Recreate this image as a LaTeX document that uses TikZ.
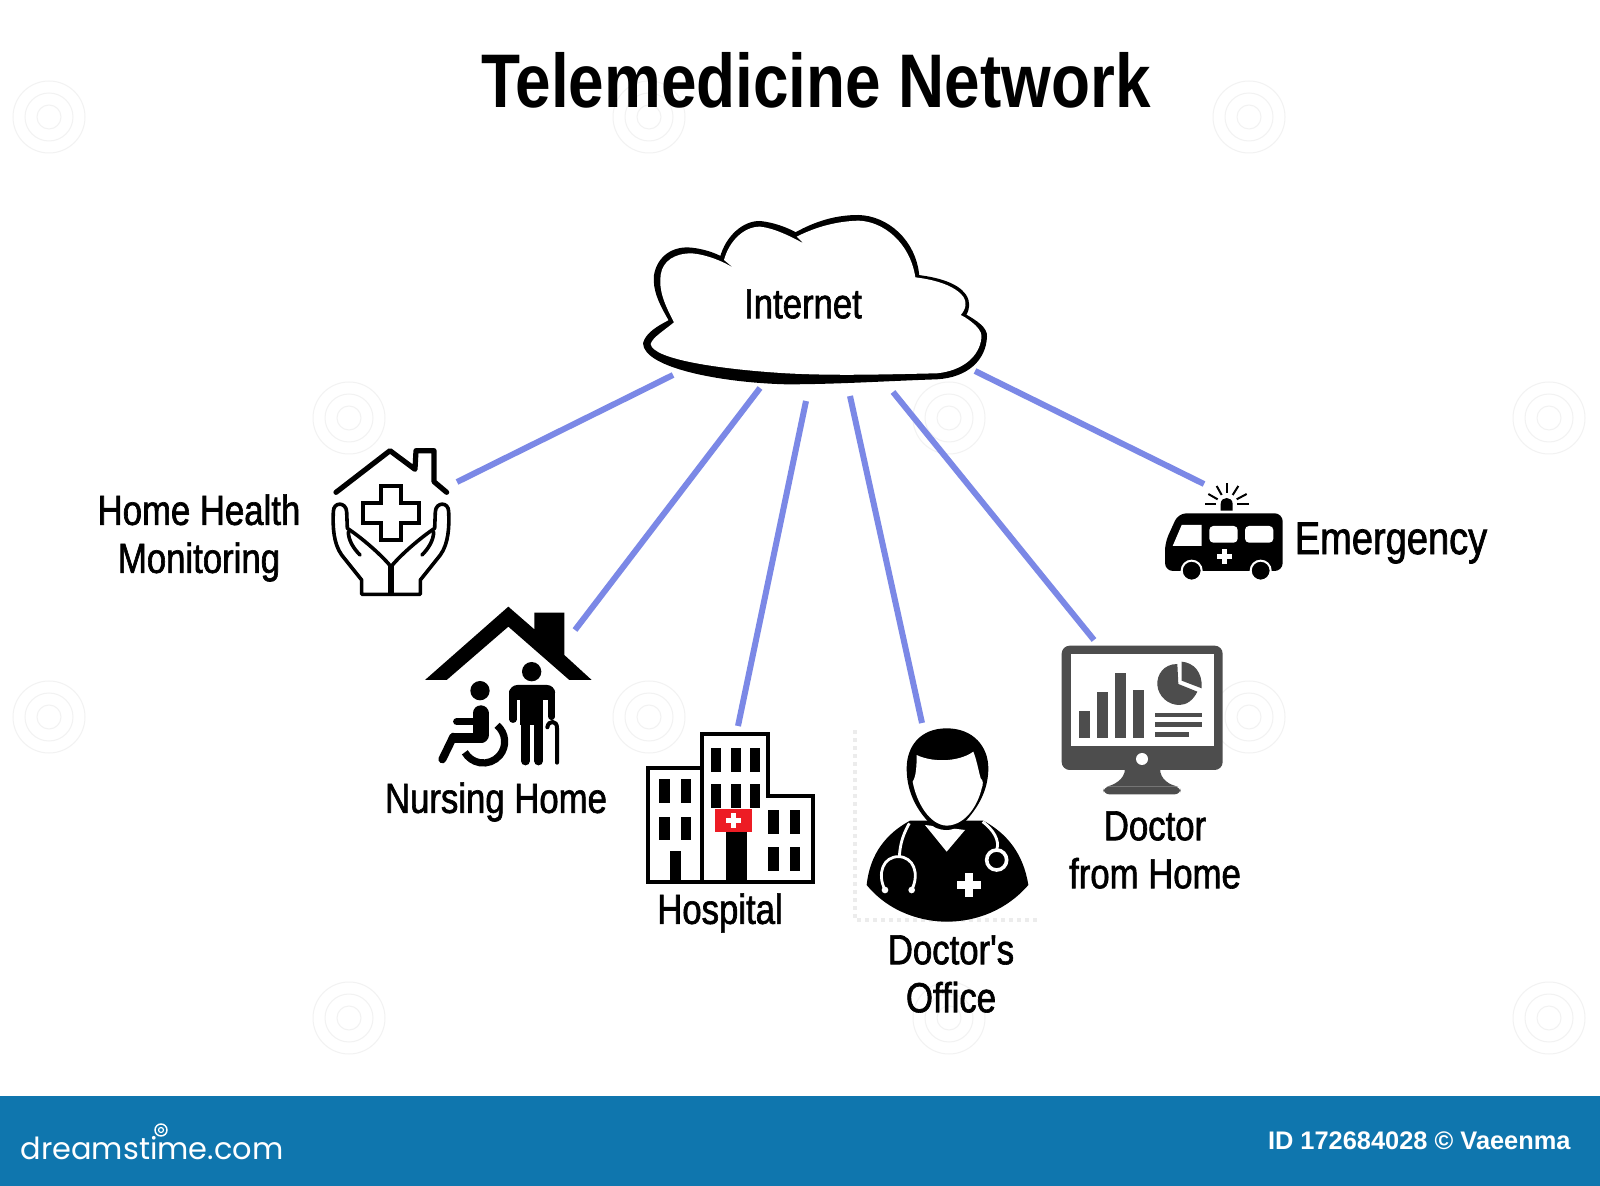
\documentclass[tikz,border=0pt]{standalone}
\usepackage{fontspec}
\setmainfont{Liberation Sans}
\newfontfamily\titlefont[FakeStretch=0.84]{Liberation Sans}
\newfontfamily\labelfont[FakeStretch=0.827,FakeBold=1.5]{Liberation Sans}
\newfontfamily\brandfont{Poppins}
\definecolor{netblue}{HTML}{7B88E6}
\definecolor{bandblue}{HTML}{0F76AE}
\definecolor{screengrey}{HTML}{4D4D4D}
\definecolor{signred}{HTML}{ED1C24}
\tikzset{
  tag/.style={font=\labelfont\fontsize{21}{24}\selectfont,align=center,inner sep=0pt},
  netline/.style={netblue,line width=3pt},
  mark1/.style={gray!10,line width=0.5pt},
  zoomhome/.style={shift={(310,430)},scale=1/3},
  zoomhosp/.style={shift={(630,710)},scale=1/3},
  zoomcar/.style={shift={(1050,470)},scale=1/3},
  zoomcloud/.style={shift={(620,200)},scale=1/3}
}
\begin{document}
\begin{tikzpicture}[x=0.5pt,y=-0.5pt]
\useasboundingbox (0,0) rectangle (1600,1186);
\fill[white] (0,0) rectangle (1600,1186);
% faint marks behind the picture
\foreach \mx/\my in {49/117,649/117,1249/117,349/418,949/418,1549/418,49/717,649/717,1249/717,349/1018,949/1018,1549/1018}
  \foreach \mr in {12,24,36}
    \draw[mark1] (\mx,\my) circle[radius=\mr];
\draw[gray!15,dotted,line width=2pt] (855,730) -- (855,920) -- (1040,920);
\fill[bandblue] (0,1096) rectangle (1600,1186);

\node (title) at (816,80) {\titlefont\bfseries\fontsize{38}{40}\selectfont Telemedicine Network};

% cloud
\begin{scope}[zoomcloud]
\filldraw[black,line width=1pt,line join=round] (150,362) .. controls (120,310) and (100,270) .. (105,225)
  .. controls (115,170) and (160,140) .. (215,146) .. controls (250,150) and (280,160) .. (303,172)
  .. controls (320,110) and (370,65) .. (420,66) .. controls (460,70) and (500,85) .. (527,100)
  .. controls (590,65) and (650,48) .. (715,48) .. controls (800,50) and (885,120) .. (895,228)
  .. controls (950,235) and (1010,250) .. (1035,285) .. controls (1048,305) and (1048,325) .. (1035,345)
  .. controls (1070,365) and (1100,385) .. (1098,410) .. controls (1095,480) and (1040,530) .. (950,535)
  .. controls (800,540) and (650,550) .. (500,550) .. controls (300,545) and (75,500) .. (72,430)
  .. controls (80,400) and (115,380) .. (150,362) -- cycle;
\fill[white] (162,367) .. controls (132,310) and (116,270) .. (122,225)
  .. controls (128,182) and (165,160) .. (215,160) .. controls (260,164) and (310,184) .. (342,205)
  -- (312,180) .. controls (327,125) and (370,80) .. (420,80) .. controls (460,84) and (510,108) .. (550,130)
  -- (530,110) .. controls (590,80) and (650,64) .. (715,62) .. controls (790,64) and (870,128) .. (886,232)
  .. controls (950,240) and (1005,258) .. (1030,290) .. controls (1040,305) and (1040,325) .. (1022,345)
  -- (1035,352) .. controls (1065,372) and (1088,392) .. (1084,415) .. controls (1078,468) and (1030,512) .. (950,520)
  .. controls (800,523) and (650,528) .. (500,520) .. controls (300,508) and (98,478) .. (92,432)
  .. controls (98,412) and (132,392) .. (162,367) -- cycle;
\end{scope}
\node[tag] (internet) at (803,304) {Internet};

% connectors
\coordinate (netA) at (673,375);
\coordinate (netB) at (760,388);
\coordinate (netC) at (806,401);
\coordinate (netD) at (850,396);
\coordinate (netE) at (893,392);
\coordinate (netF) at (975,371);
\coordinate (homeEnd) at (457,482);
\coordinate (nurseEnd) at (575,630);
\coordinate (hospEnd) at (738,726);
\coordinate (officeEnd) at (922,723);
\coordinate (screenEnd) at (1094,640);
\coordinate (carEnd) at (1204,484);
\draw[netline] (netA) -- (homeEnd);
\draw[netline] (netB) -- (nurseEnd);
\draw[netline] (netC) -- (hospEnd);
\draw[netline] (netD) -- (officeEnd);
\draw[netline] (netE) -- (screenEnd);
\draw[netline] (netF) -- (carEnd);

% home health
\begin{scope}[zoomhome]
\draw[line width=2.6pt,line cap=round,line join=round] (78,187) -- (240,62) -- (315,118) -- (318,62) -- (372,62) -- (372,155) -- (410,187);
\draw[line width=2pt] (213,168) -- (273,168) -- (273,220) -- (328,220) -- (328,280) -- (273,280) -- (273,330) -- (213,330) -- (213,280) -- (160,280) -- (160,220) -- (213,220) -- cycle;
\foreach \side/\cx in {1/0,-1/486} {
  \begin{scope}[shift={(\cx,0)},xscale=\side]
  \draw[line width=1.8pt,line join=round,line cap=round] (243,493) -- (155,493) -- (155,450) -- (95,375)
    .. controls (70,340) and (68,290) .. (70,245) .. controls (70,215) and (108,215) .. (110,245) -- (112,295)
    .. controls (150,320) and (210,370) .. (243,410);
  \draw[line width=1.8pt,line cap=round] (115,305) .. controls (115,330) and (130,355) .. (150,375);
  \end{scope}
}
\draw[line width=2.6pt] (243,405) -- (243,495);
\end{scope}
\node[tag] (homelabel) at (199,538) {Home Health\\Monitoring};

% nursing home
\begin{scope}[zoomhome]
\fill (345,750) -- (595,530) -- (673,598) -- (673,548) -- (763,548) -- (763,675) -- (845,750) -- (778,750) -- (595,590) -- (410,750) -- cycle;
\fill (665,725) circle[radius=29];
\fill[rounded corners=4pt] (598,765) rectangle (735,810);
\fill (630,780) rectangle (700,885);
\draw[line width=3.6pt,line cap=round] (609,785) -- (609,868);
\draw[line width=3.4pt,line cap=round] (725,785) -- (725,860);
\draw[line width=4.4pt,line cap=round] (646,880) -- (646,993);
\draw[line width=4.4pt,line cap=round] (686,880) -- (686,993);
\draw[line width=2pt,line cap=round] (712,892) .. controls (715,870) and (742,870) .. (741,895) -- (741,998);
\fill (510,782) circle[radius=29];
\draw[line width=8pt,line cap=round] (512,850) -- (512,915);
\draw[line width=3.6pt,line cap=round] (440,875) -- (510,875);
\draw[line width=5pt,line cap=round] (515,925) -- (435,925);
\draw[line width=4pt,line cap=round] (430,920) -- (397,988);
\draw[line width=3.6pt] (520,935) ++(-50:64) arc[start angle=-50,end angle=150,radius=64];
\end{scope}
\node[tag] (nurselabel) at (496,802) {Nursing Home};

% hospital
\begin{scope}[zoomhosp]
\draw[line width=2pt,line join=miter] (215,515) -- (215,72) -- (415,72) -- (415,258) -- (550,258) -- (550,515) -- (55,515) -- (55,175) -- (215,175);
\foreach \wx in {88,153}
  \foreach \wy in {208,320}
    \fill (\wx,\wy) rectangle ++(31,71);
\foreach \wx in {243,303,360}
  \foreach \wy in {115,222}
    \fill (\wx,\wy) rectangle ++(31,72);
\foreach \wx in {415,480}
  \foreach \wy in {300,412}
    \fill (\wx,\wy) rectangle ++(31,71);
\fill (120,422) rectangle (153,512);
\fill (288,360) rectangle (352,512);
\fill[signred] (255,298) rectangle (367,365);
\fill[white] (303,310) rectangle (319,354);
\fill[white] (288,324) rectangle (334,340);
\end{scope}
\node[tag] (hosplabel) at (720,913) {Hospital};

% doctor
\begin{scope}[zoomhosp]
\fill (710,525) .. controls (720,430) and (770,370) .. (840,332) -- (1060,332)
  .. controls (1130,370) and (1180,430) .. (1195,525) .. controls (1130,600) and (1040,635) .. (950,635)
  .. controls (880,635) and (780,610) .. (710,525) -- cycle;
\fill[white] (885,345) -- (950,425) -- (1005,360) -- cycle;
\fill (950,55) .. controls (1030,55) and (1075,110) .. (1075,175) .. controls (1075,240) and (1045,290) .. (1010,330)
  .. controls (985,355) and (965,360) .. (950,360) .. controls (930,360) and (910,355) .. (890,330)
  .. controls (855,290) and (830,240) .. (830,175) .. controls (830,110) and (870,55) .. (950,55) -- cycle;
\fill[white] (860,135) .. controls (900,155) and (980,160) .. (1030,125) .. controls (1040,150) and (1045,180) .. (1052,205)
  .. controls (1060,210) and (1060,225) .. (1055,235) .. controls (1045,280) and (1010,345) .. (950,347)
  .. controls (900,345) and (860,280) .. (848,215) .. controls (858,200) and (860,170) .. (860,135) -- cycle;
\draw[white,line width=1.4pt] (838,340) .. controls (815,380) and (810,410) .. (808,440);
\draw[white,line width=1.4pt] (765,540) .. controls (740,490) and (760,440) .. (805,440) .. controls (850,440) and (870,490) .. (845,540);
\fill[white] (765,540) circle[radius=10];
\fill[white] (845,540) circle[radius=10];
\draw[white,line width=1.4pt] (1058,335) .. controls (1090,360) and (1110,390) .. (1100,420);
\draw[white,line width=1.8pt] (1100,450) circle[radius=30];
\fill[white] (1004,490) rectangle (1030,560);
\fill[white] (982,512) rectangle (1052,538);
\end{scope}
\node[tag] (officelabel) at (951,974) {Doctor's\\Office};

% doctor at home screen
\begin{scope}[zoomcar]
\fill[screengrey,rounded corners=4pt] (35,527) rectangle (518,900);
\fill[screengrey] (225,895) .. controls (225,930) and (190,945) .. (170,950) -- (385,950) .. controls (360,945) and (330,930) .. (330,895) -- cycle;
\fill[screengrey,rounded corners=3pt] (160,950) rectangle (392,973);
\fill[white] (62,553) rectangle (492,827);
\fill[white] (276,867) circle[radius=18];
\fill[screengrey] (86,722) rectangle (119,803);
\fill[screengrey] (140,667) rectangle (173,803);
\fill[screengrey] (195,610) rectangle (229,803);
\fill[screengrey] (250,660) rectangle (283,803);
\fill[screengrey] (385,642) -- (382,582) .. controls (340,582) and (320,615) .. (322,645) .. controls (325,680) and (355,705) .. (388,705) .. controls (410,705) and (430,690) .. (442,665) -- cycle;
\fill[screengrey] (395,632) -- (395,575) .. controls (430,578) and (458,605) .. (455,655) -- cycle;
\fill[screengrey] (316,728) rectangle (457,742);
\fill[screengrey] (316,757) rectangle (457,771);
\fill[screengrey] (316,787) rectangle (416,801);
\end{scope}
\node[tag] (screenlabel) at (1155,850) {Doctor\\from Home};

% emergency
\begin{scope}[zoomcar]
\fill[rounded corners=4pt] (385,130) -- (698,130) -- (698,303) -- (345,303) -- (345,218) -- cycle;
\fill[white] (368,228) -- (395,165) -- (455,165) -- (455,228) -- cycle;
\fill[white,rounded corners=2pt] (478,168) rectangle (563,218);
\fill[white,rounded corners=2pt] (585,168) rectangle (670,218);
\fill[white] (516,237) rectangle (530,283);
\fill[white] (500,253) rectangle (546,267);
\draw[fill=black,draw=white,line width=1pt] (425,302) circle[radius=30];
\draw[fill=black,draw=white,line width=1pt] (632,302) circle[radius=30];
\fill (512,122) -- (512,102) .. controls (512,78) and (548,78) .. (548,102) -- (548,122) -- cycle;
\foreach \rxa/\rya/\rxb/\ryb in {465/103/498/103,475/72/503/88,500/48/515/75,530/40/530/68,565/48/548/75,590/72/560/88,597/103/562/103}
  \draw[line width=1pt] (\rxa,\rya) -- (\rxb,\ryb);
\end{scope}
\node[tag,font=\labelfont\fontsize{23}{26}\selectfont] (carlabel) at (1391,543) {Emergency};

% footer
\node[white,inner sep=0pt] (brand) at (152,1148) {\brandfont\fontsize{15.2}{18}\selectfont dreamstime.com};
\draw[white,line width=0.7pt] (161,1130) circle[radius=6];
\draw[white,line width=0.6pt] (161,1130) circle[radius=2.5];
\node[white,inner sep=0pt,anchor=east] (credit) at (1571,1141) {\fontsize{12.7}{14}\selectfont\bfseries ID 172684028 © Vaeenma};
\end{tikzpicture}
\end{document}
